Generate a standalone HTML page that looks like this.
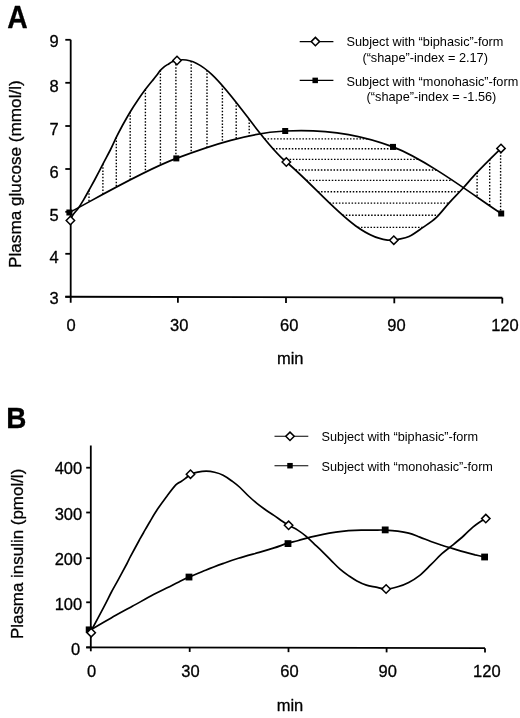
<!DOCTYPE html>
<html><head><meta charset="utf-8"><title>Figure</title>
<style>html,body{margin:0;padding:0;background:#fff;}svg{display:block;}text{stroke:#000;stroke-width:0.3px;stroke-linejoin:round;}text.lg{stroke:none;}</style>
</head><body>
<svg width="520" height="718" viewBox="0 0 520 718" font-family='"Liberation Sans", Arial, sans-serif' fill="#000"><text x="0" y="0" font-size="30.6" text-anchor="start" font-weight="bold" transform="translate(7.3,28.1) scale(0.926,1)">A</text>
<line x1="70.7" y1="39.8" x2="70.7" y2="302.8" stroke="#000" stroke-width="1.8" />
<path d="M65.3,296.75 L502.3,297.75" stroke="#000" stroke-width="1.8" fill="none" stroke-linejoin="round"/>
<line x1="65.3" y1="39.8" x2="70.7" y2="39.8" stroke="#000" stroke-width="1.8" />
<line x1="65.3" y1="82.8" x2="70.7" y2="82.8" stroke="#000" stroke-width="1.8" />
<line x1="65.3" y1="126.0" x2="70.7" y2="126.0" stroke="#000" stroke-width="1.8" />
<line x1="65.3" y1="169.0" x2="70.7" y2="169.0" stroke="#000" stroke-width="1.8" />
<line x1="65.3" y1="211.8" x2="70.7" y2="211.8" stroke="#000" stroke-width="1.8" />
<line x1="65.3" y1="253.8" x2="70.7" y2="253.8" stroke="#000" stroke-width="1.8" />
<line x1="65.3" y1="296.8" x2="70.7" y2="296.8" stroke="#000" stroke-width="1.8" />
<text x="58.8" y="47.4" font-size="16.5" text-anchor="end" font-weight="normal" >9</text>
<text x="58.8" y="92.2" font-size="16.5" text-anchor="end" font-weight="normal" >8</text>
<text x="58.8" y="134.9" font-size="16.5" text-anchor="end" font-weight="normal" >7</text>
<text x="58.8" y="178.1" font-size="16.5" text-anchor="end" font-weight="normal" >6</text>
<text x="58.8" y="220.8" font-size="16.5" text-anchor="end" font-weight="normal" >5</text>
<text x="58.8" y="263.3" font-size="16.5" text-anchor="end" font-weight="normal" >4</text>
<text x="58.8" y="304.3" font-size="16.5" text-anchor="end" font-weight="normal" >3</text>
<line x1="177.9" y1="297.00766590389014" x2="177.9" y2="302.80766590389015" stroke="#000" stroke-width="1.8" />
<line x1="286.0" y1="297.2550343249428" x2="286.0" y2="303.0550343249428" stroke="#000" stroke-width="1.8" />
<line x1="394.3" y1="297.5028604118993" x2="394.3" y2="303.3028604118993" stroke="#000" stroke-width="1.8" />
<line x1="502.3" y1="297.75" x2="502.3" y2="303.55" stroke="#000" stroke-width="1.8" />
<text x="71.2" y="331.2" font-size="16.5" text-anchor="middle" font-weight="normal" >0</text>
<text x="179.2" y="331.2" font-size="16.5" text-anchor="middle" font-weight="normal" >30</text>
<text x="289.2" y="331.2" font-size="16.5" text-anchor="middle" font-weight="normal" >60</text>
<text x="396.5" y="331.2" font-size="16.5" text-anchor="middle" font-weight="normal" >90</text>
<text x="504.9" y="331.2" font-size="16.5" text-anchor="middle" font-weight="normal" >120</text>
<text x="290.2" y="364.3" font-size="16.5" text-anchor="middle" font-weight="normal" >min</text>
<text x="0" y="0" font-size="17.15" transform="translate(20.6,267.9) rotate(-90)">Plasma glucose (mmol/l)</text>
<path d="M89,190.2V201.9 M102.9,164.1V194.3 M116.3,137.3V187.0 M130.2,112.0V179.7 M145.4,89.5V172.1 M160.4,70.3V165.0 M175.9,60.8V158.6 M191.2,61.0V152.9 M207.0,70.2V147.5 M222.4,85.4V142.7 M236.2,102.2V138.9 M249.2,119.3V135.9 M477.1,172.4V197.1 M489.7,159.6V205.9 M500.6,148.8V213.1 M264.4,138.9H368.2 M272.8,148.8H397.7 M283.3,159.4H418.8 M295.5,170.0H436.6 M306.4,180.4H452.6 M317.9,191.7H459.7 M329.4,203.1H448.9 M342.6,215.3H438.5 M357.8,227.4H423.0" stroke="#000" stroke-width="1.4" stroke-dasharray="1.5 1.67" fill="none"/>
<path d="M69.4,212.5 C87.2,203.5 140.3,172.0 176.3,158.4 C212.3,144.8 249.1,132.9 285.2,131.0 C321.3,129.1 357.0,133.2 393.0,146.9 C429.0,160.7 483.2,202.4 501.2,213.5" stroke="#000" stroke-width="1.7" fill="none"/>
<path d="M70.6,220.4 C70.9,219.6 71.2,217.5 72.5,215.5 C73.8,213.5 76.4,210.8 78.3,208.2 C80.2,205.5 81.9,202.6 83.7,199.6 C85.5,196.6 87.3,193.3 89.1,190.0 C90.9,186.7 92.3,184.3 94.6,180.0 C96.9,175.7 100.4,168.9 103.0,163.9 C105.6,158.9 108.0,154.5 110.3,150.0 C112.5,145.5 114.4,141.1 116.5,136.9 C118.6,132.7 120.5,129.1 122.7,125.0 C125.0,120.9 127.5,116.5 130.0,112.3 C132.5,108.1 135.3,103.8 137.9,100.0 C140.5,96.2 142.9,92.8 145.3,89.6 C147.7,86.4 150.6,82.9 152.5,80.6 C154.4,78.3 155.2,77.3 156.5,75.6 C157.8,73.9 158.8,72.1 160.1,70.6 C161.4,69.1 162.8,67.9 164.1,66.8 C165.4,65.7 166.8,65.0 168.2,64.2 C169.5,63.4 170.7,62.4 172.2,61.8 C173.7,61.2 176.2,60.7 177.0,60.5 C213.0,50.8 250.2,132.1 286.3,162.0 C322.4,191.9 358.0,242.5 393.8,240.2 C394.5,240.1 395.6,240.0 398.1,239.4 C400.6,238.8 405.0,238.5 409.0,236.6 C413.0,234.7 417.8,231.1 422.3,227.9 C426.8,224.7 431.7,221.8 436.2,217.6 C440.7,213.4 445.0,207.4 449.4,202.6 C453.8,197.8 458.2,193.4 462.5,188.7 C466.8,184.0 471.1,178.8 475.4,174.2 C479.7,169.6 483.8,165.5 488.1,161.2 C492.4,156.9 498.9,150.5 501.0,148.4" stroke="#000" stroke-width="1.7" fill="none"/>
<rect x="66.4" y="209.5" width="6" height="6" fill="#000"/>
<rect x="173.3" y="155.4" width="6" height="6" fill="#000"/>
<rect x="282.2" y="128.0" width="6" height="6" fill="#000"/>
<rect x="390.0" y="143.9" width="6" height="6" fill="#000"/>
<rect x="498.2" y="210.5" width="6" height="6" fill="#000"/>
<path d="M70.4,216.3 L74.60000000000001,220.5 L70.4,224.7 L66.2,220.5 Z" fill="#fff" stroke="#000" stroke-width="1.5"/>
<path d="M177,56.3 L181.2,60.5 L177,64.7 L172.8,60.5 Z" fill="#fff" stroke="#000" stroke-width="1.5"/>
<path d="M286.3,157.8 L290.5,162 L286.3,166.2 L282.1,162 Z" fill="#fff" stroke="#000" stroke-width="1.5"/>
<path d="M393.8,236.0 L398.0,240.2 L393.8,244.39999999999998 L389.6,240.2 Z" fill="#fff" stroke="#000" stroke-width="1.5"/>
<path d="M501,144.20000000000002 L505.2,148.4 L501,152.6 L496.8,148.4 Z" fill="#fff" stroke="#000" stroke-width="1.5"/>
<line x1="299.7" y1="41.6" x2="333.4" y2="41.6" stroke="#000" stroke-width="1.1" />
<path d="M315.4,37.4 L319.59999999999997,41.6 L315.4,45.800000000000004 L311.2,41.6 Z" fill="#fff" stroke="#000" stroke-width="1.5"/>
<line x1="299.7" y1="80.4" x2="333.4" y2="80.4" stroke="#000" stroke-width="1.1" />
<rect x="312.45" y="77.65" width="5.5" height="5.5" fill="#000"/>
<text x="346.5" y="46.1" font-size="12.72" text-anchor="start" font-weight="normal" class="lg">Subject with “biphasic”-form</text>
<text x="362.4" y="61.6" font-size="12.72" text-anchor="start" font-weight="normal" class="lg">(“shape”-index = 2.17)</text>
<text x="346.5" y="85.8" font-size="12.72" text-anchor="start" font-weight="normal" class="lg">Subject with “monohasic”-form</text>
<text x="366.6" y="101.2" font-size="12.72" text-anchor="start" font-weight="normal" class="lg">(“shape”-index = -1.56)</text>
<text x="0" y="0" font-size="30.4" text-anchor="start" font-weight="bold" transform="translate(6.3,427.9) scale(0.918,1)">B</text>
<line x1="90.8" y1="445.5" x2="90.8" y2="651.3" stroke="#000" stroke-width="1.8" />
<path d="M86.2,647.3 L485.0,648.2" stroke="#000" stroke-width="1.8" fill="none"/>
<line x1="86.2" y1="467.7" x2="90.8" y2="467.7" stroke="#000" stroke-width="1.8" />
<line x1="86.2" y1="512.5" x2="90.8" y2="512.5" stroke="#000" stroke-width="1.8" />
<line x1="86.2" y1="558.2" x2="90.8" y2="558.2" stroke="#000" stroke-width="1.8" />
<line x1="86.2" y1="602.3" x2="90.8" y2="602.3" stroke="#000" stroke-width="1.8" />
<line x1="86.2" y1="647.4" x2="90.8" y2="647.4" stroke="#000" stroke-width="1.8" />
<text x="82.2" y="474.4" font-size="16.5" text-anchor="end" font-weight="normal" >400</text>
<text x="82.2" y="519.6" font-size="16.5" text-anchor="end" font-weight="normal" >300</text>
<text x="82.2" y="565.2" font-size="16.5" text-anchor="end" font-weight="normal" >200</text>
<text x="82.2" y="609.8" font-size="16.5" text-anchor="end" font-weight="normal" >100</text>
<text x="80.3" y="654.8" font-size="16.5" text-anchor="end" font-weight="normal" >0</text>
<line x1="189.7" y1="647.5335757271815" x2="189.7" y2="651.9335757271815" stroke="#000" stroke-width="1.8" />
<line x1="288.5" y1="647.7565446339016" x2="288.5" y2="652.1565446339016" stroke="#000" stroke-width="1.8" />
<line x1="386.6" y1="647.9779338014042" x2="386.6" y2="652.3779338014042" stroke="#000" stroke-width="1.8" />
<line x1="485.0" y1="648.1999999999999" x2="485.0" y2="652.5999999999999" stroke="#000" stroke-width="1.8" />
<text x="91.5" y="677.0" font-size="16.5" text-anchor="middle" font-weight="normal" >0</text>
<text x="190.4" y="677.0" font-size="16.5" text-anchor="middle" font-weight="normal" >30</text>
<text x="289.5" y="677.0" font-size="16.5" text-anchor="middle" font-weight="normal" >60</text>
<text x="387.8" y="677.0" font-size="16.5" text-anchor="middle" font-weight="normal" >90</text>
<text x="486.8" y="677.0" font-size="16.5" text-anchor="middle" font-weight="normal" >120</text>
<text x="290.0" y="711.4" font-size="16.5" text-anchor="middle" font-weight="normal" >min</text>
<text x="0" y="0" font-size="16.95" transform="translate(23.2,639.1) rotate(-90)">Plasma insulin (pmol/l)</text>
<path d="M91.3,629.5 C94.6,627.6 104.4,621.8 111.2,617.9 C118.0,614.0 125.3,610.2 132.3,606.3 C139.4,602.4 147.5,597.8 153.5,594.6 C159.5,591.4 164.1,589.3 168.3,587.2 C172.5,585.1 175.4,583.6 178.9,581.9 C182.4,580.2 184.7,579.0 189.1,577.0 C193.5,575.0 199.9,572.5 205.6,570.2 C211.3,567.9 218.0,565.4 223.5,563.4 C229.0,561.4 232.5,560.1 238.4,558.3 C244.3,556.5 253.2,554.1 259.2,552.4 C265.1,550.7 269.4,549.4 274.1,547.9 C278.8,546.4 283.3,544.6 287.2,543.4 C291.1,542.2 293.8,541.8 297.7,540.7 C301.6,539.7 306.2,538.2 310.4,537.1 C314.6,536.0 318.9,535.1 323.1,534.3 C327.3,533.5 331.6,532.8 335.8,532.2 C340.0,531.6 344.3,531.1 348.5,530.7 C352.7,530.4 357.0,530.2 361.2,530.1 C365.4,530.0 369.9,530.1 373.9,530.1 C377.8,530.1 380.9,529.9 384.9,530.1 C388.9,530.3 393.7,530.6 397.7,531.1 C401.7,531.6 405.0,532.1 408.7,533.1 C412.4,534.1 416.1,535.7 419.8,537.1 C423.5,538.5 427.2,540.1 430.9,541.5 C434.6,542.9 438.2,544.0 441.9,545.2 C445.6,546.4 449.3,547.5 453.0,548.6 C456.7,549.7 460.3,550.9 464.0,551.9 C467.7,552.9 471.7,553.9 475.1,554.8 C478.5,555.6 483.0,556.6 484.6,557.0" stroke="#000" stroke-width="1.7" fill="none"/>
<path d="M91.3,630.5 C93.4,626.6 100.6,613.2 103.9,606.9 C107.2,600.6 108.9,596.9 111.2,592.5 C113.5,588.1 115.3,585.2 117.9,580.4 C120.5,575.6 124.9,567.5 127.0,563.5 C129.1,559.5 128.3,560.6 130.4,556.7 C132.5,552.8 137.2,544.0 139.4,540.0 C141.6,536.0 141.7,535.8 143.5,532.7 C145.3,529.6 147.8,525.1 150.2,521.2 C152.5,517.3 154.9,513.1 157.6,509.1 C160.3,505.1 163.3,501.0 166.3,497.0 C169.3,493.0 173.3,487.5 175.8,484.9 C178.3,482.3 179.3,482.7 181.1,481.5 C182.9,480.3 184.9,478.7 186.5,477.5 C188.1,476.3 188.5,475.1 190.4,474.2 C192.3,473.3 195.1,472.6 197.7,472.1 C200.3,471.6 203.4,471.2 206.2,471.2 C209.0,471.2 211.8,471.6 214.6,472.3 C217.4,473.0 220.3,473.8 223.1,475.2 C225.9,476.6 228.7,478.6 231.5,480.7 C234.3,482.8 237.2,484.9 240.0,487.5 C242.8,490.1 245.7,493.4 248.5,496.0 C251.3,498.6 254.1,501.1 256.9,503.4 C259.7,505.7 262.6,507.7 265.4,509.7 C268.2,511.7 271.1,513.5 273.9,515.4 C276.7,517.3 279.8,519.6 282.3,521.3 C284.8,523.0 286.1,523.9 288.7,525.4 C291.3,526.9 294.8,528.3 297.7,530.1 C300.6,531.9 303.4,534.0 306.2,536.4 C309.0,538.8 311.8,541.6 314.6,544.3 C317.4,546.9 320.3,549.5 323.1,552.3 C325.9,555.0 328.7,558.0 331.5,560.8 C334.3,563.6 337.2,566.7 340.0,569.2 C342.8,571.7 345.7,573.7 348.5,575.6 C351.3,577.5 353.9,579.3 356.9,580.9 C359.9,582.5 363.2,584.0 366.4,585.1 C369.6,586.2 372.7,586.5 376.0,587.2 C379.3,587.9 382.5,589.2 386.1,589.1 C389.7,589.0 393.9,587.9 397.7,586.8 C401.5,585.7 405.0,584.3 408.7,582.4 C412.4,580.5 416.1,578.2 419.8,575.3 C423.5,572.3 427.2,568.3 430.9,564.7 C434.6,561.1 438.2,557.0 441.9,553.7 C445.6,550.4 449.3,547.8 453.0,544.8 C456.7,541.8 460.7,538.5 464.0,535.5 C467.3,532.5 470.3,529.3 472.9,527.1 C475.5,524.9 477.4,523.6 479.5,522.2 C481.6,520.8 484.7,519.3 485.7,518.7" stroke="#000" stroke-width="1.7" fill="none"/>
<rect x="85.75" y="626.45" width="6.5" height="6.5" fill="#000"/>
<rect x="185.6" y="573.65" width="6.8" height="6.8" fill="#000"/>
<rect x="284.6" y="540.2" width="6.8" height="6.8" fill="#000"/>
<rect x="381.8" y="526.5" width="6.8" height="6.8" fill="#000"/>
<rect x="481.20000000000005" y="553.6" width="6.8" height="6.8" fill="#000"/>
<path d="M91.2,628.5 L95.4,632.7 L91.2,636.9000000000001 L87.0,632.7 Z" fill="#fff" stroke="#000" stroke-width="1.5"/>
<path d="M190.5,470.0 L194.7,474.2 L190.5,478.4 L186.3,474.2 Z" fill="#fff" stroke="#000" stroke-width="1.5"/>
<path d="M288.6,521.0999999999999 L292.8,525.3 L288.6,529.5 L284.40000000000003,525.3 Z" fill="#fff" stroke="#000" stroke-width="1.5"/>
<path d="M386.1,584.8 L390.3,589.0 L386.1,593.2 L381.90000000000003,589.0 Z" fill="#fff" stroke="#000" stroke-width="1.5"/>
<path d="M485.8,514.4 L490.0,518.6 L485.8,522.8000000000001 L481.6,518.6 Z" fill="#fff" stroke="#000" stroke-width="1.5"/>
<line x1="274.5" y1="436.3" x2="308.3" y2="436.3" stroke="#000" stroke-width="1.1" />
<path d="M290,432.1 L294.2,436.3 L290,440.5 L285.8,436.3 Z" fill="#fff" stroke="#000" stroke-width="1.5"/>
<line x1="274.5" y1="465.7" x2="308.3" y2="465.7" stroke="#000" stroke-width="1.1" />
<rect x="287.25" y="462.95" width="5.5" height="5.5" fill="#000"/>
<text x="321.6" y="441.3" font-size="12.7" text-anchor="start" font-weight="normal" class="lg">Subject with “biphasic”-form</text>
<text x="321.6" y="471.3" font-size="12.7" text-anchor="start" font-weight="normal" class="lg">Subject with “monohasic”-form</text></svg>
</body></html>
